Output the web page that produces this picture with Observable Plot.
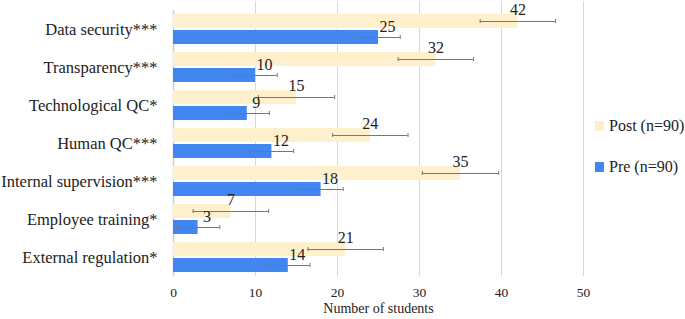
<!DOCTYPE html>
<html>
<head>
<meta charset="utf-8">
<script src="https://cdn.jsdelivr.net/npm/d3@7"></script>
<script src="https://cdn.jsdelivr.net/npm/@observablehq/plot@0.6"></script>
<style>
  html, body { margin: 0; padding: 0; background: #fff; }
  #wrap { position: relative; width: 685px; height: 319px; font-family: "Liberation Serif", "Times New Roman", serif; }
  .leg { position: absolute; left: 595px; display: flex; align-items: center; font-size: 16px; color: #222; white-space: nowrap; }
  .sw { width: 9px; height: 10px; margin-right: 5px; }
</style>
</head>
<body>
<div id="wrap"></div>
<script>
const categories = ["Data security***", "Transparency***", "Technological QC*", "Human QC***", "Internal supervision***", "Employee training*", "External regulation*"];
const seriesNames = ["Post (n=90)", "Pre (n=90)"];
const postValues = [42, 32, 15, 24, 35, 7, 21];
const preValues = [25, 10, 9, 12, 18, 3, 14];
const postErrors = [4.6, 4.6, 4.65, 4.6, 4.65, 4.6, 4.6];
const preErrors = [2.65, 2.65, 2.7, 2.65, 2.7, 2.65, 2.65];
const xTicks = [0, 10, 20, 30, 40, 50];
const colors = ["#FFF0CD", "#4286F2"];

const rows = [];
categories.forEach((c, i) => {
  rows.push({cat: c, s: seriesNames[0], v: postValues[i], e: postErrors[i]});
  rows.push({cat: c, s: seriesNames[1], v: preValues[i], e: preErrors[i]});
});
const postRows = rows.filter(d => d.s === seriesNames[0]);
const preRows = rows.filter(d => d.s === seriesNames[1]);

const font = "'Liberation Serif', 'Times New Roman', serif";
const chart = Plot.plot({
  width: 685,
  height: 319,
  marginLeft: 173,
  marginRight: 102,
  marginTop: 9,
  marginBottom: 42,
  style: {fontFamily: font, color: "#222", background: "#fff"},
  x: {domain: [0, 50]},
  y: {domain: seriesNames, paddingInner: 0.12, paddingOuter: 0.19, axis: null},
  fy: {domain: categories, padding: 0},
  color: {domain: seriesNames, range: colors},
  marks: [
    Plot.ruleX(xTicks.slice(1), {stroke: "#d9d9d9", strokeWidth: 1}),
    Plot.ruleX(xTicks.slice(1), {fy: () => categories[0], insetTop: -9, stroke: "#d9d9d9", strokeWidth: 1}),
    Plot.ruleX([0], {stroke: "#cfcfcf", strokeWidth: 1.5}),
    Plot.barX(rows, {fy: "cat", y: "s", x: "v", fill: "s"}),
    Plot.ruleY(rows, {fy: "cat", y: "s", x1: d => d.v - d.e, x2: d => d.v + d.e, stroke: "#777", strokeWidth: 1}),
    Plot.tickX(rows, {fy: "cat", y: "s", x: d => d.v - d.e, stroke: "#777", insetTop: 5, insetBottom: 5}),
    Plot.tickX(rows, {fy: "cat", y: "s", x: d => d.v + d.e, stroke: "#777", insetTop: 5, insetBottom: 5}),
    Plot.text(postRows, {fy: "cat", y: "s", x: "v", text: d => String(d.v), dy: -6.5, lineAnchor: "bottom", fontSize: 16, fill: "#222", fontFamily: font}),
    Plot.text(preRows, {fy: "cat", y: "s", x: "v", text: d => String(d.v), dx: 9, dy: -6, lineAnchor: "bottom", fontSize: 16, fill: "#222", fontFamily: font}),
    Plot.axisFy({anchor: "left", tickSize: 0, tickPadding: 16, fontSize: 16.5, label: null, fontFamily: font}),
    Plot.axisX({ticks: xTicks, tickSize: 0, tickPadding: 11, fontSize: 13.5, label: null, fontFamily: font}),
    Plot.text(["Number of students"], {frameAnchor: "bottom", fy: () => categories[categories.length - 1], dy: 36, fontSize: 14, fill: "#222", fontFamily: font, text: d => d})
  ]
});
const wrap = document.getElementById("wrap");
wrap.appendChild(chart);
seriesNames.forEach((n, i) => {
  const d = document.createElement("div");
  d.className = "leg";
  d.style.top = (i === 0 ? 117 : 158) + "px";
  d.innerHTML = `<span class="sw" style="background:${colors[i]}"></span><span>${n}</span>`;
  wrap.appendChild(d);
});
</script>
</body>
</html>
